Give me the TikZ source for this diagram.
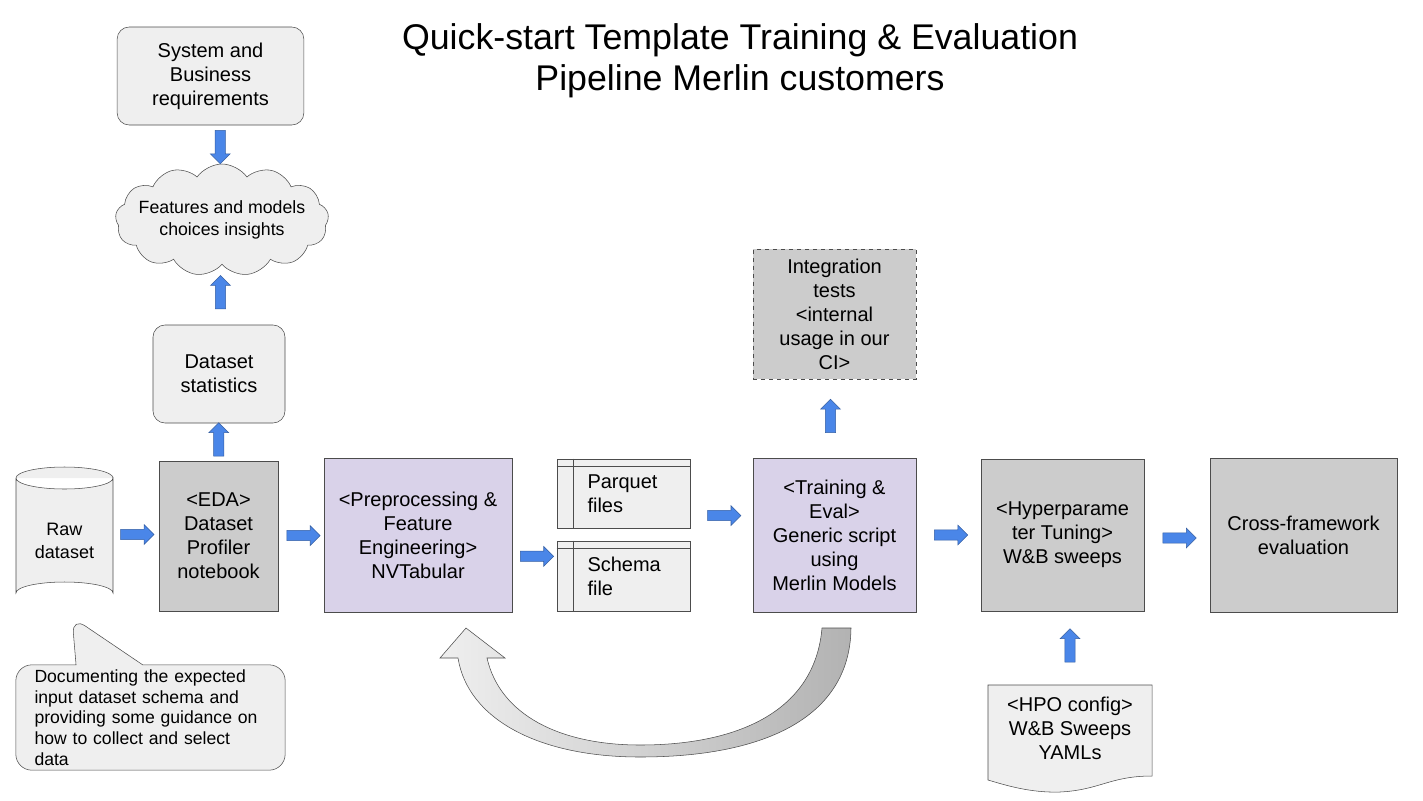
\documentclass[tikz,border=0pt]{standalone}
\usepackage{fontspec}
\setmainfont{Liberation Sans}
\usetikzlibrary{shapes.arrows,shapes.symbols,shapes.callouts,calc}
\definecolor{boxgray}{HTML}{CCCCCC}
\definecolor{lightbox}{HTML}{EFEFEF}
\definecolor{lilac}{HTML}{D9D2E9}
\definecolor{arrowblue}{HTML}{4A86E8}
\tikzset{
  box/.style={draw=black!70, fill=#1, align=center, inner sep=2pt,
    font=\fontsize{15}{18}\selectfont},
  box/.default=lightbox,
  filebox/.style={box, minimum width=100pt, text width=92pt, align=left,
    execute at begin node={\leftskip=19pt}},
  barrow/.style={single arrow, fill=arrowblue, draw=arrowblue!70!black, line width=0.4pt,
    inner sep=3.6pt, single arrow head extend=3.6pt, minimum height=25pt},
}
\begin{document}
\begin{tikzpicture}[x=0.75pt, y=-0.75pt]
	\useasboundingbox (0,0) rectangle (1423,800);
	\node [font=\fontsize{26.8}{31}\selectfont, align=center] (title) at (740,61) {Quick-start Template Training \& Evaluation\\Pipeline Merlin customers};

	% top column
	\node [box, rounded corners=9pt, minimum width=140pt, minimum height=73.5pt] (sysreq) at (210.5,76) {System and\\Business\\requirements};
	\node [cloud, cloud puffs=13, cloud puff arc=110, cloud ignores aspect, inner sep=0pt, draw=black!70, fill=lightbox, minimum width=160pt, minimum height=84pt] (insight) at (222,220) {};
	\node [align=center, font=\fontsize{13.3}{16.5}\selectfont] (insighttext) at (insight.center) {Features and models\\choices insights};
	\node [box, rounded corners=9pt, minimum width=99pt, minimum height=73.5pt] (stats) at (219,374) {Dataset\\statistics};

	% main row
	\draw [draw=black!70, fill=lightbox] (16,478) -- (16,593) arc [start angle=180, end angle=360, x radius=48.5, y radius=11] -- (113,478) arc [start angle=0, end angle=360, x radius=48.5, y radius=11];
	\node [minimum width=72pt, minimum height=90pt, align=center, font=\fontsize{13.5}{17}\selectfont] (raw) at (64.5,541) {Raw\\dataset};
	\node [box=boxgray, minimum width=89pt, minimum height=112.5pt] (eda) at (218.5,536) {<EDA>\\Dataset\\Profiler\\notebook};
	\node [box=lilac, minimum width=141pt, minimum height=115.5pt] (prep) at (418,535) {<Preprocessing \&\\Feature\\Engineering>\\NVTabular};
	\node [filebox, minimum height=52pt] (parquet) at (623.5,493.5) {Parquet\\files};
	\node [filebox, minimum height=52.5pt] (schema) at (623.5,576) {Schema\\file};
	\foreach \n in {parquet, schema} {
		\draw [black!70] ($(\n.north west)+(17,0)$) -- ($(\n.south west)+(17,0)$);
		\draw [black!70] ($(\n.north west)+(0,8)$) -- ($(\n.north east)+(0,8)$);
	}
	\node [box=lilac, minimum width=122pt, minimum height=115.5pt] (train) at (834.5,535) {<Training \&\\Eval>\\Generic script\\using\\Merlin Models};
	\node [box=boxgray, dashed, minimum width=122pt, minimum height=97.5pt] (integ) at (834.5,314) {Integration\\tests\\<internal\\usage in our\\CI>};
	\node [box=boxgray, minimum width=122pt, minimum height=114pt] (hyper) at (1062.5,535) {<Hyperparame\\ter Tuning>\\W\&B sweeps};
	\node [box=boxgray, minimum width=140pt, minimum height=115.5pt] (cross) at (1303.5,535) {Cross-framework\\evaluation};

	% hpo document
	\draw [draw=black!70, fill=lightbox] (988,685) -- (1152,685) -- (1152,776) .. controls (1110,776) and (1100,790) .. (1060,792) .. controls (1030,793) and (1005,785) .. (988,780) -- cycle;
	\node [align=center, font=\fontsize{15}{18}\selectfont] (hpo) at (1070,728) {<HPO config>\\W\&B Sweeps\\YAMLs};

	% callout
	\node [rectangle callout, callout absolute pointer={(72,617)}, callout pointer width=50pt, draw=black!70, fill=lightbox, rounded corners=12pt, minimum width=202pt, minimum height=79pt, text width=174pt, inner xsep=14pt, inner ysep=2pt, align=left, font=\fontsize{13.2}{15.5}\selectfont] (note) at (150.5,717.5) {Documenting the expected\\input dataset schema and\\providing some guidance on\\how to collect and select\\data};

	% block arrows
	\node [barrow, rotate=-90] at ($(sysreq.south)!.5!(insight.north)+(4,0)$) {};
	\node [barrow, rotate=90] at ($(stats.north)!.5!(insight.south)$) {};
	\node [barrow, rotate=90] at ($(eda.north)!.5!(stats.south)$) {};
	\node [barrow] at ($(raw.east)!.5!(eda.west)+(-1,-4)$) {};
	\node [barrow] at ($(eda.east)!.5!(prep.west)$) {};
	\node [barrow] at ($(prep.east)!.5!(parquet.west)+(0,42)$) {};
	\node [barrow] at ($(schema.east)!.5!(train.west)+(0,-40)$) {};
	\node [barrow, rotate=90] at ($(train.north)!.5!(integ.south)+(-4,0)$) {};
	\node [barrow] at ($(train.east)!.5!(hyper.west)$) {};
	\node [barrow] at ($(hyper.east)!.5!(cross.west)+(0,3)$) {};
	\node [barrow, rotate=90] at (1070,648) {};

	% feedback arrow
	\draw [draw=black!70, left color=lightbox, right color=black!30] (822,628) -- (851,628) .. controls (850,720) and (760,757) .. (640,757) .. controls (540,757) and (468,720) .. (458,658) -- (440,658) -- (466,628) -- (505,658) -- (487,658) .. controls (500,715) and (560,745) .. (640,745) .. controls (740,745) and (815,710) .. (822,628) -- cycle;
\end{tikzpicture}
\end{document}
